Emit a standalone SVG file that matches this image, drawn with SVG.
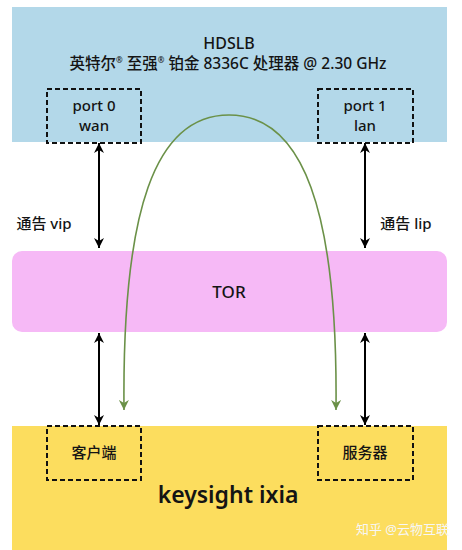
<svg xmlns="http://www.w3.org/2000/svg" width="462" height="550" viewBox="0 0 462 550">
<style>
text{font-family:"Noto Sans","Noto Sans CJK SC",sans-serif;fill:#141414;text-anchor:middle;font-weight:500}
.t{font-size:15.5px}
.p{font-size:15px}
.port{fill:none;stroke:#111;stroke-width:2;stroke-dasharray:5,3}
.bi{stroke:#000;stroke-width:2;fill:none;marker-start:url(#ah);marker-end:url(#ah)}
.gr{stroke:#6b9148;stroke-width:1.6;fill:none;marker-end:url(#gh)}
</style>
<defs>
<marker id="ah" viewBox="0 0 10 10" refX="10" refY="5" markerWidth="10" markerHeight="10" markerUnits="userSpaceOnUse" orient="auto-start-reverse"><path d="M0,0 L10,5 L0,10 L3,5 Z" fill="#000"/></marker>
<marker id="gh" viewBox="0 0 10 10" refX="10" refY="5" markerWidth="10" markerHeight="10" markerUnits="userSpaceOnUse" orient="auto"><path d="M0,0 L10,5 L0,10 L3,5 Z" fill="#6b9148"/></marker>
</defs>
<rect width="462" height="550" fill="#fff"/>
<g id="hdslb">
<rect x="12" y="7" width="435" height="135" fill="#b3d8e9"/>
<text x="229" y="49" font-size="16">HDSLB</text>
<text x="228" y="69" class="t">英特尔<tspan font-size="8" dy="-6">®</tspan><tspan dy="6"> 至强</tspan><tspan font-size="8" dy="-6">®</tspan><tspan dy="6"> 铂金 8336C 处理器 @ 2.30 GHz</tspan></text>
</g>
<g id="port0">
<rect x="47" y="89" width="94" height="54" class="port"/>
<text x="94" y="111" class="p">port 0</text>
<text x="94" y="131" class="p">wan</text>
</g>
<g id="port1">
<rect x="318" y="89" width="95" height="54" class="port"/>
<text x="365" y="111" class="p">port 1</text>
<text x="365" y="131" class="p">lan</text>
</g>
<g id="tor">
<rect x="12" y="251" width="435" height="81" rx="10" fill="#f6b9f6"/>
<text x="229" y="298" font-size="17">TOR</text>
</g>
<g id="ixia">
<rect x="12" y="426" width="435" height="124" fill="#fcdd5e"/>
<text x="228" y="503" font-size="23" style="font-weight:600">keysight ixia</text>
<text x="449" y="534" font-size="13" style="fill:#f6f6f6;text-anchor:end;font-weight:400">知乎 @云物互联</text>
</g>
<g id="client">
<rect x="47" y="426" width="94" height="54" class="port"/>
<text x="94" y="458" font-size="15">客户端</text>
</g>
<g id="server">
<rect x="318" y="426" width="95" height="54" class="port"/>
<text x="365" y="458" font-size="15">服务器</text>
</g>
<g id="labels">
<text x="44" y="229" font-size="15">通告 vip</text>
<text x="406" y="229" font-size="15">通告 lip</text>
</g>
<g id="connectors">
<line x1="99" y1="143" x2="99" y2="248" class="bi"/>
<line x1="365" y1="143" x2="365" y2="248" class="bi"/>
<line x1="99" y1="333" x2="99" y2="425" class="bi"/>
<line x1="365" y1="333" x2="365" y2="425" class="bi"/>
<path d="M229,115 C155,115 122,210 124,410" class="gr"/>
<path d="M229,115 C303,115 338,210 336,410" class="gr"/>
</g>
</svg>
